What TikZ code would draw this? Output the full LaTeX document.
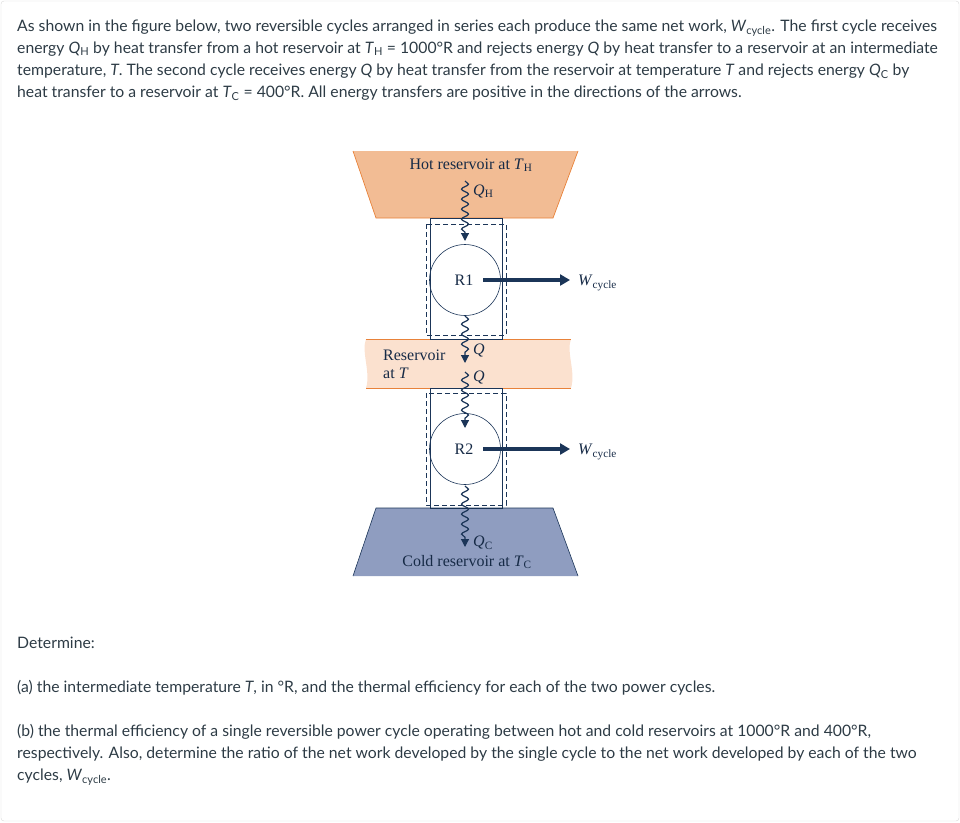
\documentclass[tikz,border=0pt]{standalone}
\usepackage{fontspec}
\setmainfont{Lato}
\newfontfamily\fig{Liberation Serif}
\usetikzlibrary{decorations.pathmorphing,arrows.meta}
\definecolor{navy}{HTML}{1B3558}
\definecolor{hot}{HTML}{F2BC94}
\definecolor{mid}{HTML}{FBE1CF}
\definecolor{cold}{HTML}{8F9DC0}
\definecolor{org}{HTML}{E8823A}
\definecolor{txt}{HTML}{2D3B45}
\begin{document}
\begin{tikzpicture}[x=1pt,y=-1pt,
 ptxt/.style={anchor=base west,inner sep=0,font=\fontsize{15.75}{18}\selectfont,text=txt},
 ftxt/.style={inner sep=0,font=\fig\fontsize{16}{18}\selectfont,text=navy!80!black},
 heat/.style={navy,line width=1.2pt,decorate,decoration={snake,amplitude=3.5pt,segment length=10pt,post length=7pt},-{Triangle[length=8pt,width=8pt]}},
 work/.style={navy,line width=3.5pt,-{Triangle[length=10pt,width=11pt]}},
 dashbox/.style={navy,dashed,dash pattern=on 5pt off 3pt,line width=0.8pt},
 solidbox/.style={navy,line width=0.8pt}]
\useasboundingbox (0,0) rectangle (960,822);
\draw[gray!30,rounded corners=3pt] (1,1) rectangle (959,821);
\node[ptxt] (p1) at (17,31) {As shown in the figure below, two reversible cycles arranged in series each produce the same net work, \textit{W}\textsubscript{cycle}. The first cycle receives};
\node[ptxt] (p2) at (17,53) {energy \textit{Q}\textsubscript{H} by heat transfer from a hot reservoir at \textit{T}\textsubscript{H} = 1000°R and rejects energy \textit{Q} by heat transfer to a reservoir at an intermediate};
\node[ptxt] (p3) at (17,75) {temperature, \textit{T}. The second cycle receives energy \textit{Q} by heat transfer from the reservoir at temperature \textit{T} and rejects energy \textit{Q}\textsubscript{C} by};
\node[ptxt] (p4) at (17,97) {heat transfer to a reservoir at \textit{T}\textsubscript{C} = 400°R. All energy transfers are positive in the directions of the arrows.};
% hot reservoir
\fill[hot] (353,151) -- (578,151) -- (553,218) -- (376,218) -- cycle;
\draw[org,line width=0.7pt] (353,151) -- (376,218) -- (553,218) -- (578,151);
\node[ftxt] (hot) at (471,165) {Hot reservoir at \textit{T}\textsubscript{H}};
% middle reservoir
\fill[mid] (366,339) -- (571,339) .. controls (566,352) and (576,372) .. (571,388) -- (366,388) .. controls (371,372) and (361,352) .. (366,339) -- cycle;
\draw[org,line width=0.7pt] (366,339) -- (571,339) (366,388) -- (571,388);
\node[ftxt,anchor=base west] (res) at (383,360) {Reservoir};
\node[ftxt,anchor=base west] (res2) at (383,378) {at \textit{T}};
% cold reservoir
\fill[cold] (376,508) -- (553,508) -- (578,576) -- (353,576) -- cycle;
\draw[navy,line width=0.6pt] (353,576) -- (376,508) -- (553,508) -- (578,576);
\node[ftxt] (cold) at (467,562) {Cold reservoir at \textit{T}\textsubscript{C}};
% boxes
\draw[solidbox] (430,218) rectangle (502,339);
\draw[dashbox] (426,224) rectangle (506,335);
\draw[solidbox] (430,388) rectangle (502,508);
\draw[dashbox] (426,393) rectangle (506,505);
\node[draw=navy,circle,minimum size=71pt,inner sep=0,line width=0.6pt] (c1) at (465,280) {};
\node[draw=navy,circle,minimum size=71pt,inner sep=0,line width=0.6pt] (c2) at (465,449) {};
\node[ftxt] (r1) at (464,280) {R1};
\node[ftxt] (r2) at (464,449) {R2};
% work
\coordinate (w1s) at (483,280); \coordinate (w1e) at (570,280);
\coordinate (w2s) at (483,449); \coordinate (w2e) at (570,449);
\draw[work] (w1s) -- (w1e);
\draw[work] (w2s) -- (w2e);
\node[ftxt,anchor=west] (wl1) at (578,283) {\textit{W}\textsubscript{cycle}};
\node[ftxt,anchor=west] (wl2) at (578,452) {\textit{W}\textsubscript{cycle}};
% heat
\coordinate (h1) at (465,181); \coordinate (h1e) at (465,241);
\coordinate (h2) at (465,316); \coordinate (h2e) at (465,363);
\coordinate (h3) at (465,372); \coordinate (h3e) at (465,428);
\coordinate (h4) at (465,486); \coordinate (h4e) at (465,547);
\draw[heat] (h1) -- (h1e);
\draw[heat] (h2) -- (h2e);
\draw[heat] (h3) -- (h3e);
\draw[heat] (h4) -- (h4e);
\node[ftxt,anchor=west] (qh) at (473,191) {\textit{Q}\textsubscript{H}};
\node[ftxt,anchor=west] (q1) at (473,350) {\textit{Q}};
\node[ftxt,anchor=west] (q2) at (473,377) {\textit{Q}};
\node[ftxt,anchor=west] (qc) at (473,543) {\textit{Q}\textsubscript{C}};
% bottom text
\node[ptxt] (d) at (17,648) {Determine:};
\node[ptxt] (a) at (17,692) {(a) the intermediate temperature \textit{T}, in °R, and the thermal efficiency for each of the two power cycles.};
\node[ptxt] (b1) at (17,736) {(b) the thermal efficiency of a single reversible power cycle operating between hot and cold reservoirs at 1000°R and 400°R,};
\node[ptxt] (b2) at (17,758) {respectively. Also, determine the ratio of the net work developed by the single cycle to the net work developed by each of the two};
\node[ptxt] (b3) at (17,780) {cycles, \textit{W}\textsubscript{cycle}.};
\end{tikzpicture}
\end{document}
